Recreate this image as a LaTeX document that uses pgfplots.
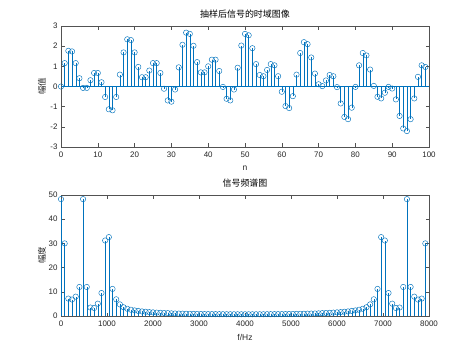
\documentclass[border=0pt]{standalone}
\usepackage{fontspec}
\setmainfont{Liberation Sans}
\newfontfamily\cjk{Noto Sans CJK SC}
\usepackage{pgfplots}
\pgfplotsset{compat=1.18}
\definecolor{mblue}{rgb}{0,0.447,0.741}
\definecolor{axgray}{gray}{0.15}
\pgfplotsset{
  mstyle/.style={
    scale only axis, width=368bp, height=121bp,
    axis line style={draw=axgray!80, line width=0.4pt},
    tick style={draw=axgray!80, line width=0.4pt},
    major tick length=3.5bp, tick align=inside,
    ticklabel style={font=\fontsize{8}{9}\selectfont, text=axgray},
    /pgf/number format/assume math mode=true,
    /pgf/number format/1000 sep={},
    scaled ticks=false,
    title style={font=\cjk\fontsize{9}{10}\selectfont, text=black, at={(axis description cs:0.5,1)}, anchor=center, yshift=6bp},
    xlabel style={font=\fontsize{8.5}{10}\selectfont, text=axgray, at={(axis description cs:0.5,0)}, anchor=center, yshift=-21bp},
    ylabel style={font=\cjk\fontsize{8.5}{10}\selectfont, text=axgray, at={(axis description cs:0,0.5)}, anchor=center, rotate=0, yshift=19bp},
    xticklabel style={yshift=-1bp},
  },
  stemst/.style={mblue, line width=0.4pt, ycomb, mark=o, mark size=2.7bp, mark options={mblue, line width=0.45pt, fill=none}},
}
\begin{document}
\begin{tikzpicture}[x=1bp,y=1bp]
\path (0,0) rectangle (474,355);
\begin{axis}[mstyle, at={(61bp,208bp)}, anchor=south west,
  xmin=0, xmax=100, ymin=-3, ymax=3,
  xtick={0,10,...,100}, ytick={-3,-2,...,3},
  title={抽样后信号的时域图像}, xlabel={n}, ylabel={幅值}]
\addplot[mblue, line width=0.4pt, forget plot] coordinates {(0,0) (100,0)};
\addplot[stemst] coordinates {
(0,0.0) (1,1.16) (2,1.77) (3,1.74) (4,1.16) (5,0.41) (6,-0.07) (7,-0.07) (8,0.31) (9,0.67)
(10,0.67) (11,0.21) (12,-0.52) (13,-1.13) (14,-1.18) (15,-0.52) (16,0.59) (17,1.69) (18,2.34) (19,2.30)
(20,1.69) (21,0.97) (22,0.46) (23,0.46) (24,0.79) (25,1.16) (26,1.16) (27,0.67) (28,-0.11) (29,-0.69)
(30,-0.75) (31,-0.15) (32,0.95) (33,2.07) (34,2.67) (35,2.61) (36,2.02) (37,1.21) (38,0.70) (39,0.70)
(40,1.00) (41,1.33) (42,1.33) (43,0.77) (44,-0.02) (45,-0.61) (46,-0.69) (47,-0.15) (48,0.93) (49,2.03)
(50,2.61) (51,2.54) (52,1.90) (53,1.11) (54,0.57) (55,0.51) (56,0.82) (57,1.11) (58,1.05) (59,0.51)
(60,-0.26) (61,-0.97) (62,-1.07) (63,-0.48) (64,0.59) (65,1.66) (66,2.20) (67,2.10) (68,1.44) (69,0.64)
(70,0.11) (71,0.02) (72,0.30) (73,0.57) (74,0.51) (75,-0.03) (76,-0.84) (77,-1.51) (78,-1.62) (79,-1.05)
(80,-0.02) (81,1.05) (82,1.66) (83,1.54) (84,0.84) (85,0.03) (86,-0.51) (87,-0.59) (88,-0.31) (89,-0.02)
(90,-0.10) (91,-0.64) (92,-1.46) (93,-2.08) (94,-2.21) (95,-1.62) (96,-0.59) (97,0.48) (98,1.05) (99,0.97)
};
\end{axis}
\begin{axis}[mstyle, at={(61bp,39bp)}, anchor=south west,
  xmin=0, xmax=8000, ymin=0, ymax=50,
  xtick={0,1000,...,8000}, ytick={0,10,...,50},
  title={信号频谱图}, xlabel={f/Hz}, ylabel={幅度}]
\addplot[stemst] coordinates {
(0,48.3) (80,30.0) (160,7.2) (240,6.8) (320,8.0) (400,12.0) (480,48.3) (560,12.0) (640,3.5) (720,3.3)
(800,5.1) (880,9.5) (960,31.2) (1040,32.6) (1120,11.2) (1200,6.9) (1280,4.8) (1360,3.6) (1440,3.0) (1520,2.6)
(1600,2.3) (1680,2.1) (1760,1.9) (1840,1.75) (1920,1.6) (2000,1.5) (2080,1.4) (2160,1.3) (2240,1.25) (2320,1.2)
(2400,1.1) (2480,1.05) (2560,1.0) (2640,0.97) (2720,0.93) (2800,0.9) (2880,0.87) (2960,0.85) (3040,0.83) (3120,0.81)
(3200,0.79) (3280,0.78) (3360,0.77) (3440,0.76) (3520,0.75) (3600,0.74) (3680,0.73) (3760,0.73) (3840,0.72) (3920,0.72)
(4000,0.72)
(4080,0.72) (4160,0.72) (4240,0.73) (4320,0.73) (4400,0.74) (4480,0.75) (4560,0.76) (4640,0.77) (4720,0.78) (4800,0.79)
(4880,0.81) (4960,0.83) (5040,0.85) (5120,0.87) (5200,0.9) (5280,0.93) (5360,0.97) (5440,1.0) (5520,1.05) (5600,1.1)
(5680,1.2) (5760,1.25) (5840,1.3) (5920,1.4) (6000,1.5) (6080,1.6) (6160,1.75) (6240,1.9) (6320,2.1) (6400,2.3)
(6480,2.6) (6560,3.0) (6640,3.6) (6720,4.8) (6800,6.9) (6880,11.2) (6960,32.6) (7040,31.2) (7120,9.5) (7200,5.1)
(7280,3.3) (7360,3.5) (7440,12.0) (7520,48.3) (7600,12.0) (7680,8.0) (7760,6.8) (7840,7.2) (7920,30.0)
};
\end{axis}
\end{tikzpicture}
\end{document}
